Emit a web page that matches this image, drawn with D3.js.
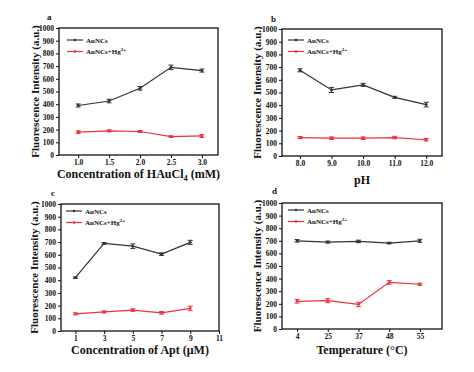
<!DOCTYPE html>
<html>
<head>
<meta charset="utf-8">
<script src="https://cdn.jsdelivr.net/npm/d3@7"></script>
<style>
    body { margin: 0; background: #fff; }
    svg { display: block; font-family: "Liberation Serif", "Times New Roman", serif; font-weight: bold; }
</style>
</head>
<body>
<svg id="chart" width="474" height="372"></svg>
<script>
// panel a - HAuCl4 concentration
const hauclConc = [1.0, 1.5, 2.0, 2.5, 3.0];
const hauclAu = [390, 425, 525, 690, 665];
const hauclAuErr = [12, 14, 14, 18, 12];
const hauclHg = [180, 190, 185, 145, 150];
const hauclHgErr = [10, 8, 8, 6, 12];

// panel b - pH
const phValues = [8.0, 9.0, 10.0, 11.0, 12.0];
const phAu = [675, 520, 560, 462, 405];
const phAuErr = [12, 20, 12, 8, 18];
const phHg = [145, 140, 140, 145, 128];
const phHgErr = [8, 10, 10, 10, 10];

// panel c - aptamer concentration
const aptConc = [1, 3, 5, 7, 9];
const aptTicks = [1, 3, 5, 7, 9, 11];
const aptAu = [420, 690, 668, 605, 698];
const aptAuErr = [6, 6, 18, 10, 16];
const aptHg = [135, 150, 165, 143, 178];
const aptHgErr = [8, 8, 10, 10, 18];

// panel d - temperature
const tempLabels = ["4", "25", "37", "48", "55"];
const tempAu = [700, 690, 695, 682, 700];
const tempAuErr = [10, 8, 10, 6, 12];
const tempHg = [220, 225, 195, 370, 355];
const tempHgErr = [14, 16, 18, 14, 8];

const yTicks = d3.range(0, 1001, 100);
const blackColor = "#333333";
const redColor = "#e8323c";

const svg = d3.select("#chart");

svg.append("rect")
    .attr("width", 474)
    .attr("height", 372)
    .attr("fill", "#fff");

function drawPanel(p) {
    const g = svg.append("g");

    const x = d3.scaleLinear().domain(p.xDomain).range([p.left, p.right]);
    const y = d3.scaleLinear().domain([0, 1000]).range([p.bottom, p.top]);

    // axes
    const yAxis = d3.axisLeft(y)
        .tickValues(yTicks)
        .tickSize(3)
        .tickPadding(2)
        .tickFormat(d3.format("d"));
    const xAxis = d3.axisBottom(x)
        .tickValues(p.xTicks)
        .tickSize(3)
        .tickPadding(1.5)
        .tickFormat(function(d, i) { return p.xFormat(d, i); });

    const ya = g.append("g")
        .attr("transform", "translate(" + p.left + ",0)")
        .call(yAxis);
    const xa = g.append("g")
        .attr("transform", "translate(0," + p.bottom + ")")
        .call(xAxis);

    [ya, xa].forEach(function(a) {
        a.select(".domain").remove();
        a.selectAll("line").attr("stroke", "#111").attr("stroke-width", 1);
        a.selectAll("text")
            .attr("fill", "#111")
            .style("font-size", "7.5px")
            .style("font-family", "Liberation Serif, serif")
            .style("font-weight", "bold");
    });

    // frame
    g.append("rect")
        .attr("x", p.left)
        .attr("y", p.top)
        .attr("width", p.right - p.left)
        .attr("height", p.bottom - p.top)
        .attr("fill", "none")
        .attr("stroke", "#111")
        .attr("stroke-width", 1.3);

    // series
    const series = [
        { vals: p.au, err: p.auErr, color: blackColor },
        { vals: p.hg, err: p.hgErr, color: redColor }
    ];

    series.forEach(function(s) {
        const pts = p.xs.map(function(v, i) { return { x: v, y: s.vals[i], e: s.err[i] }; });

        g.append("path")
            .datum(pts)
            .attr("fill", "none")
            .attr("stroke", s.color)
            .attr("stroke-width", 1.2)
            .attr("d", d3.line()
                .x(function(d) { return x(d.x); })
                .y(function(d) { return y(d.y); }));

        const eb = g.selectAll(null)
            .data(pts)
            .enter().append("g")
            .attr("stroke", s.color)
            .attr("stroke-width", 1);

        eb.append("line")
            .attr("x1", function(d) { return x(d.x); })
            .attr("x2", function(d) { return x(d.x); })
            .attr("y1", function(d) { return y(d.y - d.e); })
            .attr("y2", function(d) { return y(d.y + d.e); });
        eb.append("line")
            .attr("x1", function(d) { return x(d.x) - 2.5; })
            .attr("x2", function(d) { return x(d.x) + 2.5; })
            .attr("y1", function(d) { return y(d.y - d.e); })
            .attr("y2", function(d) { return y(d.y - d.e); });
        eb.append("line")
            .attr("x1", function(d) { return x(d.x) - 2.5; })
            .attr("x2", function(d) { return x(d.x) + 2.5; })
            .attr("y1", function(d) { return y(d.y + d.e); })
            .attr("y2", function(d) { return y(d.y + d.e); });

        g.selectAll(null)
            .data(pts)
            .enter().append("circle")
            .attr("cx", function(d) { return x(d.x); })
            .attr("cy", function(d) { return y(d.y); })
            .attr("r", 1.4)
            .attr("fill", s.color);
    });

    // legend
    const legendItems = [
        { color: blackColor, label: "AuNCs", sup: "" },
        { color: redColor, label: "AuNCs+Hg", sup: "2+" }
    ];
    legendItems.forEach(function(item, i) {
        const ly = p.legendY + i * 11.5;
        g.append("line")
            .attr("x1", p.legendX)
            .attr("x2", p.legendX + 16)
            .attr("y1", ly)
            .attr("y2", ly)
            .attr("stroke", item.color)
            .attr("stroke-width", 1.2);
        g.append("circle")
            .attr("cx", p.legendX + 8)
            .attr("cy", ly)
            .attr("r", 1.3)
            .attr("fill", item.color);
        const t = g.append("text")
            .attr("x", p.legendX + 19)
            .attr("y", ly + 2.5)
            .attr("fill", "#111")
            .style("font-size", "7px")
            .text(item.label);
        if (item.sup) {
            t.append("tspan")
                .attr("dy", -3)
                .style("font-size", "5px")
                .text(item.sup);
        }
    });

    // panel letter
    g.append("text")
        .attr("x", p.letterX)
        .attr("y", p.letterY)
        .attr("fill", "#111")
        .style("font-size", "9px")
        .text(p.letter);

    // y title
    g.append("text")
        .attr("transform", "translate(" + p.yTitleX + "," + ((p.top + p.bottom) / 2) + ") rotate(-90)")
        .attr("text-anchor", "middle")
        .attr("fill", "#111")
        .style("font-size", "11px")
        .text("Fluorescence Intensity (a.u.)");

    // x title
    const xt = g.append("text")
        .attr("x", (p.left + p.right) / 2)
        .attr("y", p.xTitleY)
        .attr("text-anchor", "middle")
        .attr("fill", "#111")
        .style("font-size", "12px");
    p.xTitle.forEach(function(part) {
        const ts = xt.append("tspan").text(part.t);
        if (part.sub) {
            ts.attr("dy", 3).style("font-size", "8.5px");
        } else if (part.back) {
            ts.attr("dy", -3);
        }
    });
}

drawPanel({
    letter: "a", letterX: 47, letterY: 20,
    left: 59, right: 218, top: 28, bottom: 155,
    xDomain: [0.69, 3.26], xTicks: hauclConc, xs: hauclConc,
    xFormat: function(d) { return d3.format(".1f")(d); },
    au: hauclAu, auErr: hauclAuErr, hg: hauclHg, hgErr: hauclHgErr,
    legendX: 67, legendY: 40,
    yTitleX: 39, xTitleY: 178,
    xTitle: [{ t: "Concentration of HAuCl" }, { t: "4", sub: true }, { t: " (mM)", back: true }]
});

drawPanel({
    letter: "b", letterX: 271, letterY: 22,
    left: 282, right: 442, top: 29, bottom: 156,
    xDomain: [7.43, 12.5], xTicks: phValues, xs: phValues,
    xFormat: function(d) { return d3.format(".1f")(d); },
    au: phAu, auErr: phAuErr, hg: phHg, hgErr: phHgErr,
    legendX: 288, legendY: 40,
    yTitleX: 261, xTitleY: 184,
    xTitle: [{ t: "pH" }]
});

drawPanel({
    letter: "c", letterX: 51, letterY: 196,
    left: 61, right: 219, top: 204, bottom: 331,
    xDomain: [0, 11], xTicks: aptTicks, xs: aptConc,
    xFormat: function(d) { return d; },
    au: aptAu, auErr: aptAuErr, hg: aptHg, hgErr: aptHgErr,
    legendX: 66, legendY: 211,
    yTitleX: 38, xTitleY: 354,
    xTitle: [{ t: "Concentration of Apt (\u03bcM)" }]
});

drawPanel({
    letter: "d", letterX: 272, letterY: 194,
    left: 282, right: 442, top: 203, bottom: 329,
    xDomain: [-0.49, 4.72], xTicks: d3.range(tempLabels.length), xs: d3.range(tempLabels.length),
    xFormat: function(d, i) { return tempLabels[i]; },
    au: tempAu, auErr: tempAuErr, hg: tempHg, hgErr: tempHgErr,
    legendX: 288, legendY: 210,
    yTitleX: 261, xTitleY: 354,
    xTitle: [{ t: "Temperature (\u00b0C)" }]
});
</script>
</body>
</html>
